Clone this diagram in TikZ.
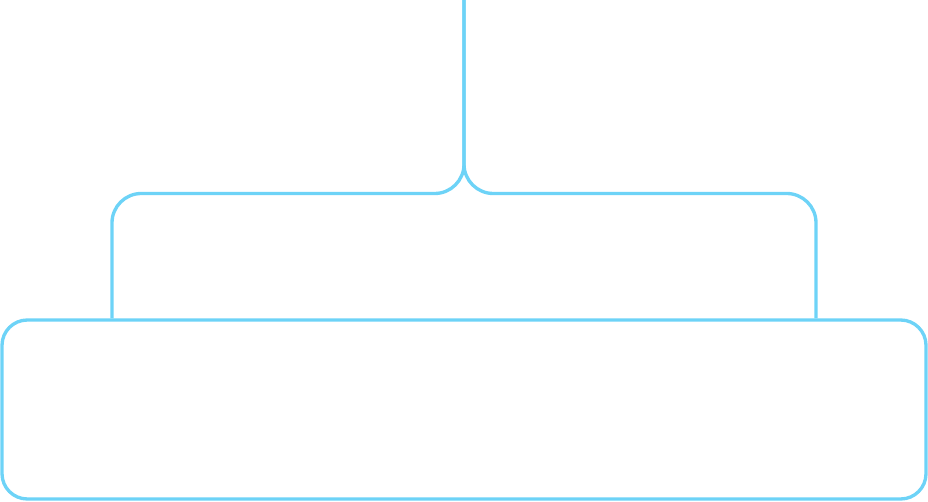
\documentclass[tikz,border=0pt]{standalone}
\usetikzlibrary{positioning}
\definecolor{linkblue}{HTML}{6DD3F7}
\begin{document}
\begin{tikzpicture}[
    x=0.75pt, y=-0.75pt,
    frame/.style={rectangle, rounded corners=19pt, draw=linkblue, line width=2.5pt, minimum width=693pt, minimum height=134.25pt, inner sep=0pt},
    link/.style={draw=linkblue, line width=2.5pt, rounded corners=22pt}
]
\useasboundingbox (0,0) rectangle (928,502);
\node[frame] (base) at (464,409.5) {};
\coordinate (top) at (464,-2);
\coordinate (split) at (464,193.5);
\coordinate (lfoot) at (112,320);
\coordinate (rfoot) at (816,320);

\draw[link] (top) -- (split) -| (base.north -| lfoot);
\draw[link] (top) -- (split) -| (base.north -| rfoot);
\end{tikzpicture}
\end{document}
